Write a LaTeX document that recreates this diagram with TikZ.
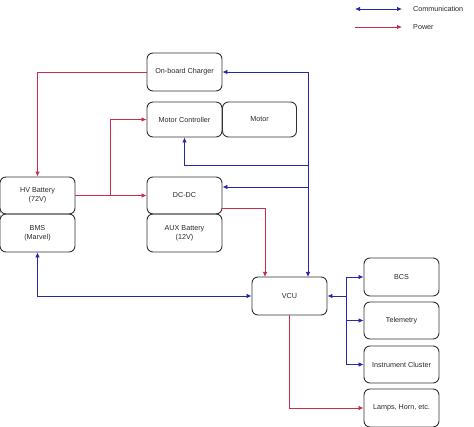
\documentclass[tikz,border=0pt]{standalone}
\usepackage{fontspec}
\setmainfont{Liberation Sans}
\usetikzlibrary{arrows.meta,calc}
\definecolor{boxline}{RGB}{50,50,50}
\definecolor{txt}{RGB}{40,40,40}
\definecolor{commc}{RGB}{40,40,165}
\definecolor{powc}{RGB}{200,45,75}
\tikzset{
  blk/.style={draw=boxline, line width=0.9pt, rounded corners=6pt, minimum width=75pt,
    minimum height=37pt, inner sep=1pt, align=center, font=\fontsize{7.2}{9}\selectfont, text=txt},
  comm/.style={draw=commc, line width=0.8pt},
  pow/.style={draw=powc, line width=0.8pt},
  tip/.tip={Latex[length=5pt,width=4.5pt]},
  lbl/.style={font=\fontsize{7.2}{9}\selectfont, text=txt, anchor=west, inner sep=0pt}
}
\begin{document}
\begin{tikzpicture}[x=1pt,y=-1pt]
\useasboundingbox (0,0) rectangle (474,427);
% blocks
\node[blk, minimum height=38pt] (chg) at (184.5,72) {On-board Charger};
\node[blk, minimum height=35pt] (mc) at (184.5,119.5) {Motor Controller};
\node[blk, minimum width=74pt, minimum height=35pt] (mot) at (259.5,119.5) {Motor};
\node[blk] (hv) at (37.5,195.5) {HV Battery\\(72V)};
\node[blk, minimum height=38pt] (bms) at (37.5,233) {BMS\\(Marvel)};
\node[blk] (dcdc) at (184.5,195.5) {DC-DC};
\node[blk, minimum height=38pt] (aux) at (184.5,233) {AUX Battery\\(12V)};
\node[blk, minimum height=38pt] (vcu) at (289.5,296) {VCU};
\node[blk, minimum height=38pt] (bcs) at (401.5,277) {BCS};
\node[blk] (tel) at (401.5,320.5) {Telemetry};
\node[blk] (ic) at (401.5,364.5) {Instrument Cluster};
\node[blk, minimum height=38pt] (lamps) at (401.5,408) {Lamps, Horn, etc.};
\draw[boxline, line width=0.6pt, fill=white] (1,214) circle (2.2pt);
% power
\draw[pow, -tip] (chg.west) -| (hv.north);
\draw[pow, -tip] (hv.east) -- (dcdc.west);
\coordinate (br) at (110,195.5);
\draw[pow, -tip] (br) |- (mc.west);
\coordinate (dcout) at ($(dcdc.east)+(0,12.5)$);
\coordinate (vcuin) at (265,277);
\draw[pow, -tip] (dcout) -| (vcuin);
\draw[pow, -tip] (vcu.south) |- (lamps.west);
% communication
\coordinate (bt) at (308,72);
\coordinate (bb) at (308,277);
\draw[comm, -tip] (bt) -- (bb);
\draw[comm, -tip] (bt) -- (chg.east);
\coordinate (bd) at (308,187);
\draw[comm, -tip] (bd) -- (bd -| dcdc.east);
\coordinate (bm) at (308,165);
\draw[comm, -tip] (bm) -| (mc.south);
\draw[comm, tip-tip] (bms.south) |- (vcu.west);
\coordinate (rj) at (346,296);
\draw[comm, -tip] (rj) -- (vcu.east);
\draw[comm] (rj |- bcs.west) -- (rj |- ic.west);
\draw[comm, -tip] (rj |- bcs.west) -- (bcs.west);
\draw[comm, -tip] (rj |- tel.west) -- (tel.west);
\draw[comm, -tip] (rj |- ic.west) -- (ic.west);
% legend
\coordinate (lc1) at (355,9);
\coordinate (lc2) at (402,9);
\draw[comm, tip-tip] (lc1) -- (lc2);
\node[lbl] (lcom) at (413,9) {Communication};
\coordinate (lp1) at (355,27);
\coordinate (lp2) at (402,27);
\draw[pow, -tip] (lp1) -- (lp2);
\node[lbl] (lpow) at (413,27) {Power};
\end{tikzpicture}
\end{document}
